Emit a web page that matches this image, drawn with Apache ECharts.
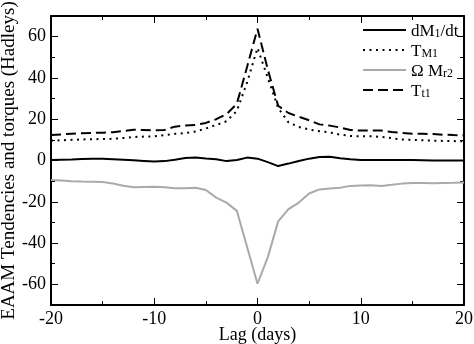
<!DOCTYPE html>
<html>
<head>
<meta charset="utf-8">
<script src="https://cdn.jsdelivr.net/npm/echarts@6/dist/echarts.min.js"></script>
<style>html,body{margin:0;padding:0;background:#fff}#c{width:474px;height:344px}</style>
</head>
<body>
<div id="c"></div>
<script>
const lags = [-20,-19,-18,-17,-16,-15,-14,-13,-12,-11,-10,-9,-8,-7,-6,-5,-4,-3,-2,-1,0,1,2,3,4,5,6,7,8,9,10,11,12,13,14,15,16,17,18,19,20];
const dM1dt = [0.2,0.4,0.5,0.7,0.8,0.8,0.6,0.4,0.1,-0.2,-0.5,-0.3,0.4,1.2,1.5,1.0,0.6,-0.3,0.2,1.4,0.9,-0.8,-2.7,-1.5,-0.2,0.9,1.7,1.8,1.1,0.6,0.3,0.3,0.3,0.3,0.2,0.2,0.1,0.0,0.0,0.0,0.0];
const TM1 = [9.6,9.8,10.0,10.2,10.3,10.4,10.5,10.9,11.4,11.6,11.7,12.3,12.9,13.3,14.1,15.5,17.2,19.0,24.0,38,54.5,40,25.5,18.5,16.2,15.0,14.2,13.6,12.5,11.9,11.7,11.7,11.5,10.8,10.2,10.0,9.8,9.6,9.5,9.4,9.3];
const OmegaMr2 = [-9.5,-9.7,-10.0,-10.2,-10.3,-10.4,-11.1,-12.2,-13.0,-12.8,-12.7,-13.0,-13.4,-13.5,-13.2,-14.3,-18,-20.4,-24.4,-42,-59.7,-46.8,-29.5,-23.6,-20.4,-16,-14,-13.6,-13.2,-12.3,-12.1,-12.0,-12.3,-11.8,-11.2,-10.9,-10.9,-11,-10.9,-10.8,-10.6];
const Tt1 = [12.3,12.6,13.0,13.2,13.4,13.5,13.7,14.3,14.9,14.8,14.6,14.8,16.4,16.9,17.2,18.2,20.0,22.4,27.5,45.5,63.8,44,26.5,23,21.2,19.5,17.5,16.9,16.0,14.8,14.5,14.6,14.5,13.8,13.3,13.0,12.9,12.8,12.5,12.3,12.2];
const yMajorTicks = [-60,-40,-20,0,20,40,60];
const seriesNames = ['dM1/dt','TM1','Ω Mr2','Tt1'];
const legendRich = {
  'dM1/dt': '{a|dM}{s|1}{a|/dt}',
  'TM1': '{a|T}{s|M1}',
  'Ω Mr2': '{a|Ω M}{s|r2}',
  'Tt1': '{a|T}{s|t1}'
};

const pairs = arr => lags.map((l, i) => [l, arr[i]]);
const FONT = '"Liberation Serif","Times New Roman",serif';
const chart = echarts.init(document.getElementById('c'));

const frameLine = {show: true, onZero: false, lineStyle: {color: '#000', width: 2}};
const noLine = {show: false, onZero: false};
const baseX = {type: 'value', min: -20, max: 20, interval: 10, gridIndex: 0};
const baseY = {type: 'value', min: -70, max: 70, gridIndex: 0, splitLine: {show: false}};

chart.setOption({
  animation: false,
  backgroundColor: '#fff',
  grid: {left: 51, right: 10, top: 16, bottom: 39, containLabel: false, outerBoundsMode: 'none'},
  xAxis: [
    Object.assign({}, baseX, {
      position: 'bottom',
      axisLine: frameLine,
      axisTick: {show: true, inside: true, length: 7, lineStyle: {color: '#000', width: 1}},
      minorTick: {show: true, splitNumber: 2, length: 4, lineStyle: {color: '#000', width: 1}},
      splitLine: {show: false},
      axisLabel: {margin: 5, fontFamily: FONT, fontSize: 18, color: '#000'},
      name: 'Lag (days)', nameLocation: 'middle', nameGap: 21, nameMoveOverlap: false,
      nameTextStyle: {fontFamily: FONT, fontSize: 18, color: '#000'}
    }),
    Object.assign({}, baseX, {
      position: 'top',
      axisLine: frameLine,
      axisTick: {show: true, inside: true, length: 7, lineStyle: {color: '#000', width: 1}},
      minorTick: {show: true, splitNumber: 2, length: 4, lineStyle: {color: '#000', width: 1}},
      splitLine: {show: false},
      axisLabel: {show: false}
    })
  ],
  yAxis: [
    Object.assign({}, baseY, {
      position: 'left',
      axisLine: frameLine,
      axisTick: {show: true, inside: true, length: 7, customValues: yMajorTicks, lineStyle: {color: '#000', width: 1}},
      axisLabel: {customValues: yMajorTicks, margin: 5, fontFamily: FONT, fontSize: 18, color: '#000'},
      name: 'EAAM Tendencies and torques (Hadleys)', nameLocation: 'middle', nameGap: 32, nameMoveOverlap: false,
      nameTextStyle: {fontFamily: FONT, fontSize: 19, color: '#000'}
    }),
    Object.assign({}, baseY, {
      position: 'left', interval: 10,
      axisLine: noLine,
      axisTick: {show: true, inside: true, length: 4, lineStyle: {color: '#000', width: 1}},
      axisLabel: {show: false}
    }),
    Object.assign({}, baseY, {
      position: 'right',
      axisLine: frameLine,
      axisTick: {show: true, inside: true, length: 7, customValues: yMajorTicks, lineStyle: {color: '#000', width: 1}},
      axisLabel: {show: false}
    }),
    Object.assign({}, baseY, {
      position: 'right', interval: 10,
      axisLine: noLine,
      axisTick: {show: true, inside: true, length: 4, lineStyle: {color: '#000', width: 1}},
      axisLabel: {show: false}
    })
  ],
  legend: {
    orient: 'vertical',
    left: 357, top: 18,
    itemWidth: 43, itemHeight: 14, itemGap: 3,
    data: seriesNames,
    itemStyle: {opacity: 0},
    formatter: name => legendRich[name],
    textStyle: {
      fontFamily: FONT, color: '#000',
      rich: {
        a: {fontFamily: FONT, fontSize: 17, lineHeight: 20, color: '#000', verticalAlign: 'bottom'},
        s: {fontFamily: FONT, fontSize: 12, lineHeight: 8, color: '#000', verticalAlign: 'bottom'}
      }
    }
  },
  series: [
    {name: seriesNames[0], type: 'line', data: pairs(dM1dt), symbol: 'none', xAxisIndex: 0, yAxisIndex: 0,
     lineStyle: {color: '#000', width: 2}, itemStyle: {color: '#000'}},
    {name: seriesNames[1], type: 'line', data: pairs(TM1), symbol: 'none', xAxisIndex: 0, yAxisIndex: 0,
     lineStyle: {color: '#000', width: 2, type: [2, 4.5]}, itemStyle: {color: '#000'}},
    {name: seriesNames[2], type: 'line', data: pairs(OmegaMr2), symbol: 'none', xAxisIndex: 0, yAxisIndex: 0,
     lineStyle: {color: '#aaaaaa', width: 2}, itemStyle: {color: '#aaaaaa'}},
    {name: seriesNames[3], type: 'line', data: pairs(Tt1), symbol: 'none', xAxisIndex: 0, yAxisIndex: 0,
     lineStyle: {color: '#000', width: 2, type: [10, 5]}, itemStyle: {color: '#000'}}
  ]
});
</script>
</body>
</html>
